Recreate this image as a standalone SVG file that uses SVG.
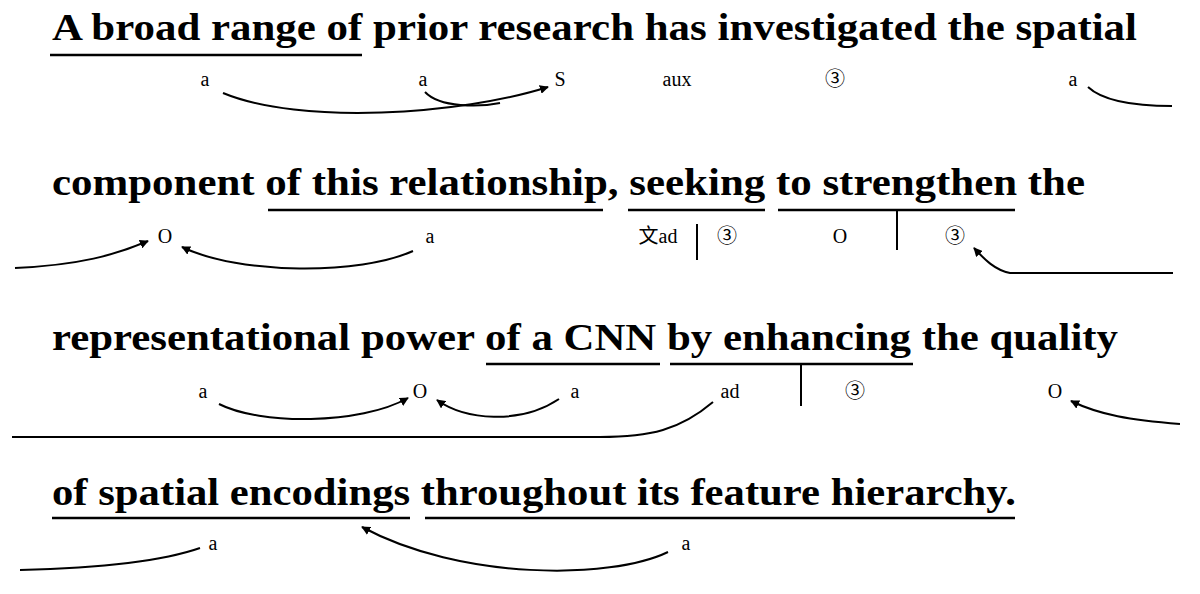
<svg xmlns="http://www.w3.org/2000/svg" width="1200" height="594" viewBox="0 0 1200 594">
<defs>
<style>
.t{font-family:"Liberation Serif","Times New Roman",serif;font-weight:bold;font-size:37px;fill:#000}
.l{font-family:"Liberation Serif","Times New Roman","Noto Sans CJK SC",serif;font-size:20px;fill:#000;text-anchor:middle}
.u{stroke:#000;stroke-width:2.5}
.c{fill:none;stroke:#000;stroke-width:2}
.v{stroke:#000;stroke-width:2}
</style>
<marker id="ah" viewBox="0 0 10 10" refX="9" refY="5" markerWidth="9" markerHeight="9" orient="auto-start-reverse" markerUnits="userSpaceOnUse"><path d="M0,0 L10,5 L0,10 z" fill="#000"/></marker>
</defs>
<rect width="1200" height="594" fill="#fff"/>
<g id="line1">
<text class="t" x="52" y="40" textLength="1085" lengthAdjust="spacingAndGlyphs">A broad range of prior research has investigated the spatial</text>
<line class="u" x1="50" y1="55" x2="362" y2="55"/>
<text class="l" x="205" y="86">a</text><text class="l" x="423" y="86">a</text><text class="l" x="560" y="86">S</text>
<text class="l" x="677" y="86">aux</text><text class="l" x="835" y="86">③</text><text class="l" x="1073" y="86">a</text>
</g>
<g id="line2">
<text class="t" x="52" y="195" textLength="1033" lengthAdjust="spacingAndGlyphs">component of this relationship, seeking to strengthen the</text>
<line class="u" x1="268" y1="210" x2="603" y2="210"/><line class="u" x1="628" y1="210" x2="765" y2="210"/><line class="u" x1="778" y1="210" x2="1015" y2="210"/>
<text class="l" x="165" y="243">O</text><text class="l" x="430" y="243">a</text><text class="l" x="658" y="243">文ad</text>
<text class="l" x="727" y="243">③</text><text class="l" x="840" y="243">O</text><text class="l" x="955" y="243">③</text>
<line class="v" x1="697" y1="224" x2="697" y2="260"/><line class="v" x1="897" y1="210" x2="897" y2="250"/>
</g>
<g id="line3">
<text class="t" x="52" y="350" textLength="1066" lengthAdjust="spacingAndGlyphs">representational power of a CNN by enhancing the quality</text>
<line class="u" x1="486" y1="364" x2="660" y2="364"/><line class="u" x1="670" y1="364" x2="913" y2="364"/>
<text class="l" x="203" y="398">a</text><text class="l" x="420" y="398">O</text><text class="l" x="575" y="398">a</text>
<text class="l" x="730" y="398">ad</text><text class="l" x="855" y="398">③</text><text class="l" x="1055" y="398">O</text>
<line class="v" x1="801" y1="364" x2="801" y2="406"/>
</g>
<g id="line4">
<text class="t" x="52" y="505" textLength="964" lengthAdjust="spacingAndGlyphs">of spatial encodings throughout its feature hierarchy.</text>
<line class="u" x1="52" y1="518" x2="410" y2="518"/><line class="u" x1="425" y1="518" x2="1015" y2="518"/>
<text class="l" x="213" y="550">a</text><text class="l" x="686" y="550">a</text>
</g>
<g id="connectors">
<path class="c" d="M223,93 C300,125 460,115 548,87" marker-end="url(#ah)"/>
<path class="c" d="M425,92 C440,108 480,107 500,103"/>
<path class="c" d="M1088,87 C1105,103 1140,106 1172,106"/>
<path class="c" d="M15,268 C80,265 115,255 148,241" marker-end="url(#ah)"/>
<path class="c" d="M413,251 C360,275 240,275 182,247" marker-end="url(#ah)"/>
<path class="c" d="M1173,273 L1010,273 C995,270 985,260 974,248" marker-end="url(#ah)"/>
<path class="c" d="M219,404 C260,425 360,425 408,398" marker-end="url(#ah)"/>
<path class="c" d="M559,399 C520,425 465,420 437,400" marker-end="url(#ah)"/>
<path class="c" d="M713,402 C680,430 650,437 600,437 L12,437"/>
<path class="c" d="M1180,424 C1130,420 1100,415 1071,401" marker-end="url(#ah)"/>
<path class="c" d="M20,570 C100,568 160,562 200,548"/>
<path class="c" d="M668,552 C610,580 460,580 362,527" marker-end="url(#ah)"/>
</g>
</svg>
